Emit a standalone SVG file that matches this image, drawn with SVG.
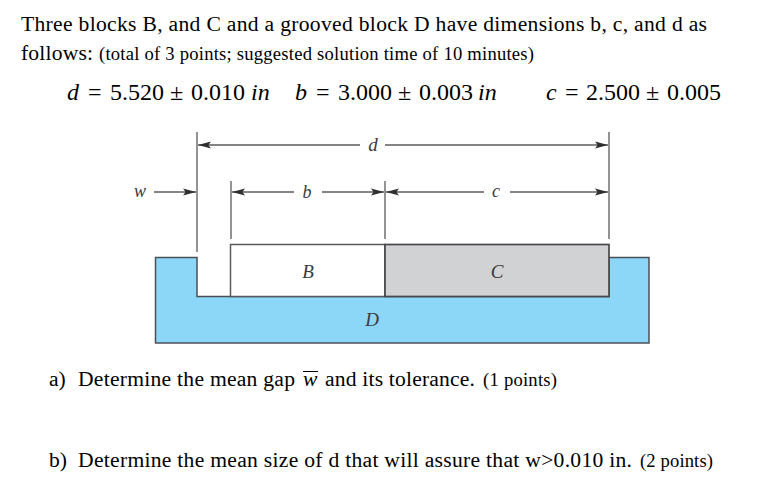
<svg xmlns="http://www.w3.org/2000/svg" width="772" height="497" viewBox="0 0 772 497">
<style>
text{font-family:"Liberation Serif","Times New Roman",serif;fill:#000}
.q{font-size:21.6px}
.s{font-size:18.6px}
.m{font-size:24px}
.i{font-style:italic}
.lab{font-size:18px;font-style:italic;fill:#3a3a3c;text-anchor:middle}
.dim{stroke:#5c5c5e;stroke-width:1.5;fill:none}
.ext{stroke:#6f6f72;stroke-width:1.5;fill:none}
</style>
<defs>
<marker id="ah" viewBox="0 0 13 8" refX="13" refY="4" markerWidth="13" markerHeight="8" markerUnits="userSpaceOnUse" orient="auto-start-reverse">
<path d="M0 0.4L13 4L0 7.6L2.6 4Z" fill="#2e2e30"/>
</marker>
</defs>
<g id="question-text">
<text class="q" x="21" y="31" textLength="686">Three blocks B, and C and a grooved block D have dimensions b, c, and d as</text>
<text class="q" x="21" y="60" textLength="72">follows:</text>
<text class="s" x="99" y="60" textLength="435">(total of 3 points; suggested solution time of 10 minutes)</text>
<text class="m" y="100"><tspan class="i" x="67">d</tspan><tspan x="88">=</tspan><tspan x="110">5.520</tspan><tspan x="170">±</tspan><tspan x="191">0.010</tspan><tspan class="i" x="251">in</tspan></text>
<text class="m" y="100"><tspan class="i" x="295">b</tspan><tspan x="316">=</tspan><tspan x="338">3.000</tspan><tspan x="398">±</tspan><tspan x="419">0.003</tspan><tspan class="i" x="478">in</tspan></text>
<text class="m" y="100"><tspan class="i" x="546">c</tspan><tspan x="565">=</tspan><tspan x="586">2.500</tspan><tspan x="646">±</tspan><tspan x="667">0.005</tspan></text>
<text class="q" x="49" y="386">a)</text>
<text class="q" x="78" y="386" textLength="217">Determine the mean gap</text>
<text class="q i" x="303" y="386">w</text>
<line x1="303" y1="371.5" x2="318" y2="371.5" stroke="#000" stroke-width="1"/>
<text class="q" x="325" y="386" textLength="150">and its tolerance.</text>
<text class="s" x="483" y="386" textLength="74">(1 points)</text>
<text class="q" x="49" y="467">b)</text>
<text class="q" x="78" y="467" textLength="554">Determine the mean size of d that will assure that w&gt;0.010 in.</text>
<text class="s" x="640" y="467" textLength="73">(2 points)</text>
</g>
<g id="D">
<path d="M155.5 257.5H197V296.5H609V257.5H649V343H155.5Z" fill="#8cd6f8" stroke="#4c5054" stroke-width="1.5"/>
<text class="lab" x="372" y="326" style="font-size:19px">D</text>
</g>
<g id="B">
<rect x="230.5" y="244.5" width="154.5" height="52" fill="#fff" stroke="#5a5a5c" stroke-width="1.5"/>
<text class="lab" x="308" y="278" style="font-size:19px">B</text>
</g>
<g id="C">
<rect x="385" y="244.5" width="224" height="52" fill="#d1d2d4" stroke="#48484a" stroke-width="1.7"/>
<text class="lab" x="497" y="278" style="font-size:19px">C</text>
</g>
<g id="connectors">
<line class="ext" x1="197" y1="132" x2="197" y2="252"/>
<line class="ext" x1="609" y1="132" x2="609" y2="239"/>
<line class="ext" x1="231" y1="181" x2="231" y2="239"/>
<line class="ext" x1="385" y1="181" x2="385" y2="239"/>
<line class="dim" x1="360" y1="145" x2="198" y2="145" marker-end="url(#ah)"/>
<line class="dim" x1="385" y1="145" x2="608" y2="145" marker-end="url(#ah)"/>
<line class="dim" x1="154" y1="192" x2="196" y2="192" marker-end="url(#ah)"/>
<line class="dim" x1="294" y1="192" x2="232" y2="192" marker-end="url(#ah)"/>
<line class="dim" x1="322" y1="192" x2="384" y2="192" marker-end="url(#ah)"/>
<line class="dim" x1="484" y1="192" x2="386" y2="192" marker-end="url(#ah)"/>
<line class="dim" x1="510" y1="192" x2="608" y2="192" marker-end="url(#ah)"/>
</g>
<g id="dimension-labels">
<text class="lab" x="373" y="151" style="font-size:19px">d</text>
<text class="lab" x="140" y="197">w</text>
<text class="lab" x="307" y="198">b</text>
<text class="lab" x="496" y="197">c</text>
</g>
</svg>
